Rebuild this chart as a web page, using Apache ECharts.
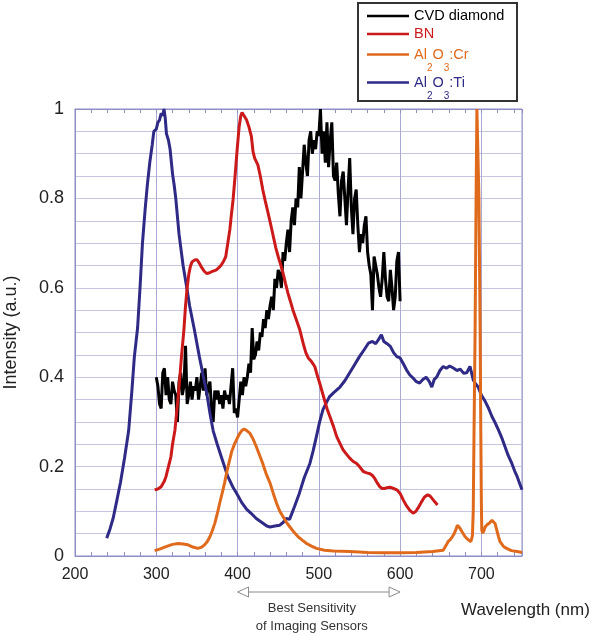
<!DOCTYPE html>
<html>
<head>
<meta charset="utf-8">
<script src="https://cdn.jsdelivr.net/npm/echarts@6/dist/echarts.min.js"></script>
<style>
  html, body { margin: 0; padding: 0; background: #fff; }
  #chart { width: 598px; height: 636px; }
</style>
</head>
<body>
<div id="chart"></div>
<script>
// wavelength (nm), intensity (a.u.)
const cvdDiamond = [
  [300,0.40],[302,0.38],[304,0.34],[306,0.33],[308,0.41],[310,0.42],[312,0.36],[314,0.40],[316,0.35],[318,0.34],
  [320,0.39],[322,0.37],[324,0.36],[326,0.30],[328,0.39],[330,0.41],[332,0.36],[334,0.38],[336,0.47],[338,0.34],
  [340,0.36],[342,0.39],[344,0.35],[346,0.38],[348,0.37],[350,0.40],[352,0.35],[354,0.38],[356,0.41],[358,0.37],
  [360,0.42],[362,0.36],[364,0.36],[366,0.39],[368,0.33],[370,0.30],[372,0.37],[374,0.35],[376,0.37],[378,0.34],
  [380,0.36],[382,0.33],[384,0.37],[386,0.35],[388,0.36],[390,0.34],[392,0.38],[394,0.42],[396,0.32],[398,0.33],
  [400,0.31],[402,0.35],[404,0.39],[406,0.36],[408,0.40],[410,0.38],[412,0.40],[414,0.43],[416,0.41],[418,0.51],
  [420,0.44],[422,0.45],[424,0.48],[426,0.46],[428,0.50],[430,0.49],[432,0.53],[434,0.51],[436,0.55],[438,0.53],
  [440,0.56],[442,0.58],[444,0.55],[446,0.62],[448,0.60],[450,0.64],[452,0.63],[454,0.60],[456,0.68],[458,0.66],
  [460,0.70],[462,0.73],[464,0.68],[466,0.75],[468,0.78],[470,0.74],[472,0.80],[474,0.78],[476,0.87],[478,0.80],
  [480,0.86],[482,0.92],[484,0.88],[486,0.85],[488,0.93],[490,0.95],[492,0.90],[494,0.93],[496,0.91],[498,0.95],
  [500,0.94],[502,1.00],[504,0.90],[506,0.95],[508,0.88],[510,0.97],[512,0.87],[514,0.93],[516,0.97],[518,0.85],
  [520,0.84],[522,0.88],[524,0.81],[526,0.76],[528,0.84],[530,0.86],[532,0.80],[534,0.74],[536,0.82],[538,0.89],
  [540,0.78],[542,0.72],[544,0.80],[546,0.82],[548,0.74],[550,0.68],[552,0.72],[554,0.70],[556,0.74],[558,0.76],
  [560,0.68],[562,0.65],[564,0.63],[566,0.55],[568,0.67],[570,0.65],[572,0.63],[574,0.60],[576,0.58],[578,0.62],
  [580,0.68],[582,0.62],[584,0.58],[586,0.57],[588,0.64],[590,0.60],[592,0.55],[594,0.58],[596,0.66],[598,0.68],
  [600,0.57]
];

const bn = [
  [298,0.148],[302,0.150],[306,0.155],[310,0.168],[312,0.178],[315,0.200],[318,0.222],[320,0.250],[323,0.282],
  [325,0.320],[327,0.357],[329,0.400],[331,0.446],[334,0.506],[336,0.560],[338,0.600],[340,0.630],[342,0.648],
  [344,0.658],[347,0.662],[350,0.663],[353,0.655],[356,0.645],[359,0.637],[362,0.632],[365,0.633],[368,0.636],
  [371,0.638],[374,0.640],[377,0.645],[380,0.651],[383,0.660],[385.5,0.670],[388,0.700],[390.5,0.730],[392.5,0.765],
  [394.5,0.797],[396.5,0.840],[398.5,0.886],[400,0.920],[402,0.961],[404,0.985],[405.5,0.992],[408,0.985],
  [411,0.976],[414,0.960],[417,0.939],[419,0.905],[421,0.890],[425,0.875],[428,0.850],[431,0.820],[434,0.795],
  [437.6,0.767],[441,0.740],[444,0.715],[447,0.690],[450,0.670],[453,0.652],[456,0.633],[459,0.610],[462,0.588],
  [465,0.570],[468,0.551],[472,0.530],[476.6,0.506],[480.7,0.476],[484,0.455],[487,0.443],[491,0.435],[495,0.424],
  [498,0.405],[501,0.387],[504,0.368],[507,0.349],[510,0.330],[513.6,0.312],[518,0.290],[522,0.267],[526,0.252],
  [530,0.237],[534,0.228],[538,0.219],[542,0.212],[546.5,0.207],[550,0.200],[554.7,0.189],[559,0.186],[563,0.184],
  [566,0.180],[569,0.173],[572,0.163],[575,0.155],[578,0.151],[581,0.151],[584,0.153],[587.5,0.154],[592,0.151],
  [596,0.148],[600,0.140],[604,0.125],[608,0.112],[612,0.102],[616,0.096],[619,0.099],[622,0.107],[626,0.120],
  [630,0.132],[634,0.137],[637,0.134],[641,0.125],[646,0.114]
];

const al2o3Cr = [
  [298,0.012],[305,0.016],[312,0.021],[320,0.026],[327,0.028],[333,0.027],[339,0.025],[345,0.020],[351,0.017],
  [356,0.020],[360,0.026],[363,0.033],[366,0.043],[369,0.057],[372,0.073],[375,0.094],[378,0.118],[381,0.140],
  [384,0.163],[387,0.190],[390,0.213],[393,0.235],[396.6,0.252],[400,0.265],[403,0.275],[405.5,0.281],[408,0.284],
  [411,0.281],[415,0.275],[419,0.262],[423,0.245],[427,0.226],[431,0.207],[435,0.185],[440,0.163],[444,0.140],
  [448,0.118],[452,0.100],[456,0.088],[460,0.076],[464,0.066],[469,0.054],[474.5,0.043],[480,0.035],[485,0.028],
  [491,0.022],[497,0.017],[507,0.013],[518,0.011],[538,0.010],[560,0.008],[580,0.007],[600,0.007],[620,0.008],
  [640,0.010],[653,0.013],[657,0.025],[659,0.032],[662,0.037],[664,0.040],[666,0.048],[668,0.056],[670.5,0.069],
  [673,0.064],[676,0.055],[680,0.043],[684,0.036],[687,0.032],[689,0.045],[690,0.100],[691,0.282],[692.3,0.506],
  [693.5,0.800],[694.5,1.000],[696,1.000],[697,0.800],[698.5,0.506],[699.3,0.282],[700,0.120],[700.5,0.058],
  [701.7,0.051],[703,0.056],[704.6,0.065],[707,0.070],[710,0.074],[713,0.080],[715,0.083],[717,0.072],[719,0.058],
  [721,0.044],[723,0.032],[727,0.022],[731,0.017],[737,0.012],[744,0.010],[750,0.008]
];

const al2o3Ti = [
  [239,0.040],[243,0.060],[247,0.085],[251,0.120],[256,0.165],[261,0.220],[266,0.280],[270,0.370],[273,0.445],
  [277,0.510],[280,0.600],[283,0.700],[286.5,0.780],[289,0.830],[292,0.880],[295,0.920],[297,0.950],[300,0.955],
  [302,0.970],[304,0.975],[306,0.990],[308,0.985],[309.5,1.000],[311,0.980],[312.5,0.945],[315,0.930],[317,0.910],
  [320,0.855],[322,0.830],[324,0.800],[328,0.720],[333,0.650],[338,0.595],[341,0.560],[347,0.505],[353,0.446],
  [357,0.410],[362,0.365],[366,0.320],[370,0.280],[375,0.250],[380,0.222],[388,0.178],[394,0.155],[399,0.140],
  [405,0.120],[411,0.105],[417,0.095],[423,0.084],[430,0.075],[436,0.067],[440,0.065],[446,0.067],[452,0.069],
  [456,0.075],[460,0.084],[464,0.082],[470,0.110],[476,0.140],[482,0.175],[489,0.207],[493,0.235],[497,0.267],
  [501,0.300],[505,0.327],[509,0.342],[513,0.356],[518,0.365],[526,0.378],[532,0.392],[538,0.410],[544,0.428],
  [550,0.446],[556,0.462],[561,0.476],[566,0.480],[570,0.475],[573,0.483],[577,0.495],[580,0.480],[584,0.475],
  [588,0.469],[592,0.455],[596,0.446],[600,0.443],[604,0.430],[608,0.416],[612,0.405],[616,0.398],[620,0.390],
  [624,0.387],[628,0.395],[632,0.400],[636,0.390],[639,0.378],[642,0.395],[645,0.400],[649,0.415],[653,0.424],
  [657,0.420],[661,0.425],[666,0.420],[670,0.415],[674,0.418],[678,0.409],[682,0.410],[686,0.424],[690,0.394],
  [693,0.385],[696,0.378],[700,0.360],[705,0.345],[709,0.330],[713,0.312],[717,0.298],[721,0.282],[725,0.265],
  [729,0.245],[733,0.225],[737.5,0.207],[741,0.190],[744,0.178],[747,0.163],[750,0.148]
];

const xTickLabels = [200, 300, 400, 500, 600, 700];
const yTickLabels = [0, 0.2, 0.4, 0.6, 0.8, 1];
const sensitivityRange = [400, 600];

const FONT = 'Liberation Sans, Arial, sans-serif';
const GRID_H = '#c6c6e3';
const GRID_V = '#a9a9d4';
const FRAME = '#8e8ec6';

const seriesDefs = [
  { name: 'CVD diamond', data: cvdDiamond, color: '#000000' },
  { name: 'Al2O3:Ti', data: al2o3Ti, color: '#2e2a86' },
  { name: 'BN', data: bn, color: '#cc1a1a' },
  { name: 'Al2O3:Cr', data: al2o3Cr, color: '#e06a1c' }
];

// y = centre of the legend row in pixels
const legendRows = [
  { name: 'CVD diamond', color: '#000000', y: 16 },
  { name: 'BN', color: '#cc1a1a', y: 34 },
  { name: 'Al2O3:Cr', color: '#e06a1c', y: 52 },
  { name: 'Al2O3:Ti', color: '#2e2a86', y: 80 }
];

const hasSub = name => name.indexOf('Al2O3') === 0;

// chemical formula -> rich text with subscripts
const formatName = name => {
  if (!hasSub(name)) return '{n|' + name + '}';
  return '{n|Al}{s|2}{n|O}{s|3}{n|' + name.slice(5) + '}';
};

const isTickLabel = (v, list) => list.some(t => Math.abs(t - v) < 1e-6);

const chart = echarts.init(document.getElementById('chart'));

const option = {
  animation: false,
  textStyle: { fontFamily: FONT },
  grid: {
    left: 75, top: 109, width: 447, height: 447,
    containLabel: false, outerBoundsMode: 'none',
    show: true, borderColor: FRAME, borderWidth: 1, backgroundColor: 'transparent'
  },
  legend: legendRows.map(r => ({
    data: [r.name],
    orient: 'vertical',
    left: 367,
    top: r.y - (hasSub(r.name) ? 16 : 8),
    padding: 0,
    z: 20,
    icon: 'rect',
    itemWidth: 42,
    itemHeight: 2.5,
    selectedMode: false,
    formatter: formatName,
    textStyle: {
      color: r.color,
      fontFamily: FONT,
      fontSize: 14.5,
      lineHeight: 16,
      rich: {
        n: { color: r.color, fontSize: 14.5, lineHeight: 16, fontFamily: FONT },
        s: { color: r.color, fontSize: 10, lineHeight: 16, fontFamily: FONT, padding: [27, 0, 0, 0] }
      }
    }
  })),
  xAxis: [
    {
      type: 'value', min: 200, max: 750, interval: 20,
      axisLine: { show: true, lineStyle: { color: FRAME } },
      axisTick: { show: true, inside: true, length: 4, lineStyle: { color: FRAME } },
      splitLine: { show: false },
      axisLabel: {
        color: '#222', fontSize: 16, margin: 11, fontFamily: FONT,
        formatter: v => isTickLabel(v, xTickLabels) ? String(v) : ''
      }
    },
    {
      type: 'value', min: 200, max: 750, interval: 100, position: 'bottom',
      axisLine: { show: false }, axisTick: { show: false }, axisLabel: { show: false },
      splitLine: { show: true, lineStyle: { color: GRID_V, width: 1 } }
    },
    {
      type: 'value', min: 200, max: 750, interval: 20, position: 'top',
      axisLine: { show: true, lineStyle: { color: FRAME } },
      axisTick: { show: true, inside: true, length: 4, lineStyle: { color: FRAME } },
      axisLabel: { show: false }, splitLine: { show: false }
    }
  ],
  yAxis: {
    type: 'value', min: 0, max: 1, interval: 0.05,
    name: 'Intensity (a.u.)',
    nameLocation: 'middle',
    nameGap: 55,
    nameTextStyle: { color: '#222', fontSize: 18, fontFamily: FONT },
    axisLine: { show: true, lineStyle: { color: FRAME } },
    axisTick: { show: false },
    splitLine: { show: true, lineStyle: { color: GRID_H, width: 1 } },
    axisLabel: {
      color: '#222', fontSize: 18, margin: 11, fontFamily: FONT,
      formatter: v => isTickLabel(v, yTickLabels) ? String(+v.toFixed(1)) : ''
    }
  },
  series: seriesDefs.map(s => ({
    name: s.name,
    type: 'line',
    data: s.data,
    xAxisIndex: 0,
    yAxisIndex: 0,
    showSymbol: false,
    symbol: 'none',
    lineStyle: { color: s.color, width: 3 },
    itemStyle: { color: s.color }
  }))
};

chart.setOption(option);

// arrow under the x axis marking the best sensor sensitivity range
const xa = chart.convertToPixel({ xAxisIndex: 0 }, sensitivityRange[0]);
const xb = chart.convertToPixel({ xAxisIndex: 0 }, sensitivityRange[1]);
const ay = chart.convertToPixel({ yAxisIndex: 0 }, 0) + 36;
const headColor = '#8a8a8a';
chart.setOption({
  graphic: [
    {
      type: 'rect', left: 357, top: 2, z: 1,
      shape: { width: 159, height: 98 },
      style: { fill: '#fff', stroke: '#333', lineWidth: 2 }
    },
    {
      type: 'text', left: 461, top: 602, z: 10,
      style: { text: 'Wavelength (nm)', fill: '#222', fontSize: 17, fontFamily: FONT }
    },
    {
      type: 'line', z: 10,
      shape: { x1: xa + 10, y1: ay, x2: xb - 10, y2: ay },
      style: { stroke: headColor, lineWidth: 1 }
    },
    {
      type: 'polygon', z: 10,
      shape: { points: [[xa, ay], [xa + 11, ay - 5], [xa + 11, ay + 5]] },
      style: { fill: '#fff', stroke: headColor, lineWidth: 1 }
    },
    {
      type: 'polygon', z: 10,
      shape: { points: [[xb, ay], [xb - 11, ay - 5], [xb - 11, ay + 5]] },
      style: { fill: '#fff', stroke: headColor, lineWidth: 1 }
    },
    {
      type: 'text', z: 10, x: (xa + xb) / 2 - 7, y: ay + 25,
      style: {
        text: 'Best Sensitivity\nof Imaging Sensors',
        fill: '#333', fontSize: 13, fontFamily: FONT, lineHeight: 18,
        align: 'center', verticalAlign: 'middle'
      }
    }
  ]
});
</script>
</body>
</html>
